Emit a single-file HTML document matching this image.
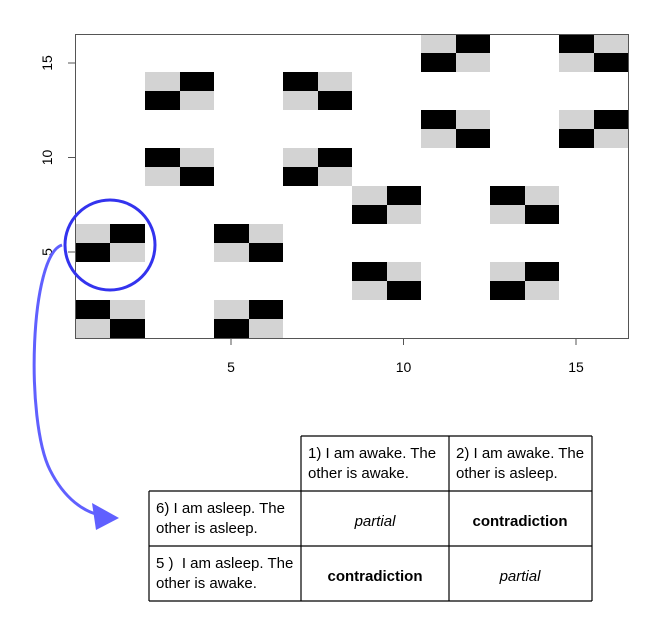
<!DOCTYPE html>
<html><head><style>
body{margin:0;background:#fff;}
svg text{font-family:"Liberation Sans",sans-serif;}
</style></head><body>
<svg width="654" height="616" xmlns="http://www.w3.org/2000/svg">
<g fill="#d3d3d3">
<rect x="75" y="300" width="70" height="38"/><rect x="214" y="300" width="69" height="38"/>
<rect x="75" y="224" width="70" height="38"/><rect x="214" y="224" width="69" height="38"/>
<rect x="352" y="262" width="69" height="38"/><rect x="490" y="262" width="69" height="38"/>
<rect x="352" y="186" width="69" height="38"/><rect x="490" y="186" width="69" height="38"/>
<rect x="145" y="148" width="69" height="38"/><rect x="283" y="148" width="69" height="38"/>
<rect x="145" y="72" width="69" height="38"/><rect x="283" y="72" width="69" height="38"/>
<rect x="421" y="110" width="69" height="38"/><rect x="559" y="110" width="69" height="38"/>
<rect x="421" y="34" width="69" height="38"/><rect x="559" y="34" width="69" height="38"/>
</g>
<g fill="#000">
<rect x="75" y="300" width="35" height="19"/><rect x="110" y="319" width="35" height="19"/>
<rect x="214" y="224" width="35" height="19"/><rect x="249" y="243" width="34" height="19"/>
<rect x="352" y="262" width="35" height="19"/><rect x="387" y="281" width="34" height="19"/>
<rect x="490" y="186" width="35" height="19"/><rect x="525" y="205" width="34" height="19"/>
<rect x="145" y="148" width="35" height="19"/><rect x="180" y="167" width="34" height="19"/>
<rect x="283" y="72" width="35" height="19"/><rect x="318" y="91" width="34" height="19"/>
<rect x="421" y="110" width="35" height="19"/><rect x="456" y="129" width="34" height="19"/>
<rect x="559" y="34" width="35" height="19"/><rect x="594" y="53" width="34" height="19"/>
<rect x="249" y="300" width="34" height="19"/><rect x="214" y="319" width="35" height="19"/>
<rect x="110" y="224" width="35" height="19"/><rect x="75" y="243" width="35" height="19"/>
<rect x="525" y="262" width="34" height="19"/><rect x="490" y="281" width="35" height="19"/>
<rect x="387" y="186" width="34" height="19"/><rect x="352" y="205" width="35" height="19"/>
<rect x="318" y="148" width="34" height="19"/><rect x="283" y="167" width="35" height="19"/>
<rect x="180" y="72" width="34" height="19"/><rect x="145" y="91" width="35" height="19"/>
<rect x="594" y="110" width="34" height="19"/><rect x="559" y="129" width="35" height="19"/>
<rect x="456" y="34" width="34" height="19"/><rect x="421" y="53" width="35" height="19"/>
</g>
<rect x="75.5" y="34.5" width="553" height="304" fill="none" stroke="#555" stroke-width="1"/>
<g stroke="#555" stroke-width="1">
<line x1="231" y1="338" x2="231" y2="345"/><line x1="403.5" y1="338" x2="403.5" y2="345"/><line x1="576" y1="338" x2="576" y2="345"/>
<line x1="68" y1="63" x2="75" y2="63"/><line x1="68" y1="157.5" x2="75" y2="157.5"/><line x1="68" y1="252" x2="75" y2="252"/>
</g>
<g font-size="14" fill="#000" text-anchor="middle">
<text x="231" y="372">5</text><text x="403.5" y="372">10</text><text x="576" y="372">15</text>
<text transform="translate(52,63) rotate(-90)">15</text>
<text transform="translate(52,157.5) rotate(-90)">10</text>
<text transform="translate(52,252) rotate(-90)">5</text>
</g>
<circle cx="110" cy="245" r="45" fill="none" stroke="#3333ee" stroke-width="3"/>
<path d="M62 245 C 30 255, 25 420, 50 470 C 65 500, 85 512, 100 515" fill="none" stroke="#6060ff" stroke-width="3"/>
<polygon points="119,518 92,503 96,530" fill="#6060ff"/>
<g stroke="#000" stroke-width="1.2" fill="none">
<line x1="301" y1="436" x2="592" y2="436"/>
<line x1="149" y1="491" x2="592" y2="491"/>
<line x1="149" y1="546" x2="592" y2="546"/>
<line x1="149" y1="601" x2="592" y2="601"/>
<line x1="149" y1="491" x2="149" y2="601"/>
<line x1="301" y1="436" x2="301" y2="601"/>
<line x1="449" y1="436" x2="449" y2="601"/>
<line x1="592" y1="436" x2="592" y2="601"/>
</g>
<g font-size="15" fill="#000">
<text x="308" y="458">1) I am awake. The</text><text x="308" y="478">other is awake.</text>
<text x="456" y="458">2) I am awake. The</text><text x="456" y="478">other is asleep.</text>
<text x="156" y="513">6) I am asleep. The</text><text x="156" y="533">other is asleep.</text>
<text x="156" y="568">5 )&#160; I am asleep. The</text><text x="156" y="588">other is awake.</text>
<text x="375" y="526" text-anchor="middle" font-style="italic">partial</text>
<text x="520" y="526" text-anchor="middle" font-weight="bold">contradiction</text>
<text x="375" y="581" text-anchor="middle" font-weight="bold">contradiction</text>
<text x="520" y="581" text-anchor="middle" font-style="italic">partial</text>
</g>
</svg>
</body></html>
